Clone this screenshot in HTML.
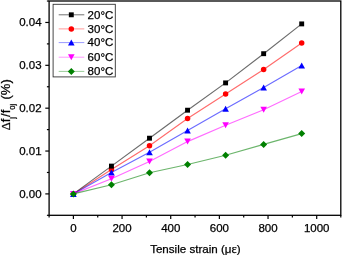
<!DOCTYPE html>
<html><head><meta charset="utf-8"><style>
html,body{margin:0;padding:0;background:#fff;}
svg{display:block;}
.t{font-family:"Liberation Sans",Arial,sans-serif;font-size:11.5px;fill:#000;stroke:#000;stroke-width:0.25px;}
.ti{font-family:"Liberation Sans",Arial,sans-serif;font-size:11.6px;fill:#000;stroke:#000;stroke-width:0.25px;}
.ty{font-family:"Liberation Sans",Arial,sans-serif;font-size:13px;fill:#000;stroke:#000;stroke-width:0.25px;}
.lg{font-family:"Liberation Sans",Arial,sans-serif;font-size:11.5px;fill:#000;stroke:#000;stroke-width:0.25px;}
</style></head><body>
<svg width="342" height="255" viewBox="0 0 342 255">
<rect width="342" height="255" fill="#fff"/>
<polyline points="73.40,193.90 111.45,169.60 149.50,145.70 187.55,118.60 225.60,93.90 263.65,69.40 301.70,43.00" fill="none" stroke="#ff0000" stroke-width="1.15" stroke-opacity="0.58"/>
<circle cx="73.40" cy="193.90" r="2.75" fill="#ff0000"/>
<circle cx="111.45" cy="169.60" r="2.75" fill="#ff0000"/>
<circle cx="149.50" cy="145.70" r="2.75" fill="#ff0000"/>
<circle cx="187.55" cy="118.60" r="2.75" fill="#ff0000"/>
<circle cx="225.60" cy="93.90" r="2.75" fill="#ff0000"/>
<circle cx="263.65" cy="69.40" r="2.75" fill="#ff0000"/>
<circle cx="301.70" cy="43.00" r="2.75" fill="#ff0000"/>
<polyline points="73.40,193.90 111.45,166.10 149.50,138.20 187.55,110.20 225.60,82.90 263.65,53.70 301.70,23.90" fill="none" stroke="#000000" stroke-width="1.15" stroke-opacity="0.58"/>
<rect x="70.95" y="191.45" width="4.90" height="4.90" fill="#000000"/>
<rect x="109.00" y="163.65" width="4.90" height="4.90" fill="#000000"/>
<rect x="147.05" y="135.75" width="4.90" height="4.90" fill="#000000"/>
<rect x="185.10" y="107.75" width="4.90" height="4.90" fill="#000000"/>
<rect x="223.15" y="80.45" width="4.90" height="4.90" fill="#000000"/>
<rect x="261.20" y="51.25" width="4.90" height="4.90" fill="#000000"/>
<rect x="299.25" y="21.45" width="4.90" height="4.90" fill="#000000"/>
<polyline points="73.40,193.90 111.45,172.50 149.50,152.20 187.55,130.40 225.60,108.80 263.65,87.40 301.70,65.60" fill="none" stroke="#0000ff" stroke-width="1.15" stroke-opacity="0.58"/>
<polygon points="73.40,190.90 76.70,196.90 70.10,196.90" fill="#0000ff"/>
<polygon points="111.45,169.50 114.75,175.50 108.15,175.50" fill="#0000ff"/>
<polygon points="149.50,149.20 152.80,155.20 146.20,155.20" fill="#0000ff"/>
<polygon points="187.55,127.40 190.85,133.40 184.25,133.40" fill="#0000ff"/>
<polygon points="225.60,105.80 228.90,111.80 222.30,111.80" fill="#0000ff"/>
<polygon points="263.65,84.40 266.95,90.40 260.35,90.40" fill="#0000ff"/>
<polygon points="301.70,62.60 305.00,68.60 298.40,68.60" fill="#0000ff"/>
<polyline points="73.40,193.90 111.45,178.80 149.50,161.40 187.55,141.60 225.60,125.30 263.65,109.70 301.70,91.40" fill="none" stroke="#ff00ff" stroke-width="1.15" stroke-opacity="0.58"/>
<polygon points="73.40,196.90 76.70,190.90 70.10,190.90" fill="#ff00ff"/>
<polygon points="111.45,181.80 114.75,175.80 108.15,175.80" fill="#ff00ff"/>
<polygon points="149.50,164.40 152.80,158.40 146.20,158.40" fill="#ff00ff"/>
<polygon points="187.55,144.60 190.85,138.60 184.25,138.60" fill="#ff00ff"/>
<polygon points="225.60,128.30 228.90,122.30 222.30,122.30" fill="#ff00ff"/>
<polygon points="263.65,112.70 266.95,106.70 260.35,106.70" fill="#ff00ff"/>
<polygon points="301.70,94.40 305.00,88.40 298.40,88.40" fill="#ff00ff"/>
<polyline points="73.40,193.90 111.45,184.80 149.50,172.70 187.55,164.50 225.60,155.20 263.65,144.40 301.70,133.60" fill="none" stroke="#008000" stroke-width="1.15" stroke-opacity="0.58"/>
<polygon points="73.40,190.40 76.90,193.90 73.40,197.40 69.90,193.90" fill="#008000"/>
<polygon points="111.45,181.30 114.95,184.80 111.45,188.30 107.95,184.80" fill="#008000"/>
<polygon points="149.50,169.20 153.00,172.70 149.50,176.20 146.00,172.70" fill="#008000"/>
<polygon points="187.55,161.00 191.05,164.50 187.55,168.00 184.05,164.50" fill="#008000"/>
<polygon points="225.60,151.70 229.10,155.20 225.60,158.70 222.10,155.20" fill="#008000"/>
<polygon points="263.65,140.90 267.15,144.40 263.65,147.90 260.15,144.40" fill="#008000"/>
<polygon points="301.70,130.10 305.20,133.60 301.70,137.10 298.20,133.60" fill="#008000"/>
<rect x="49.10" y="1.00" width="291.70" height="214.30" fill="none" stroke="#000" stroke-width="1.3"/>
<line x1="49.10" y1="215.30" x2="49.10" y2="217.50" stroke="#000" stroke-width="1.2"/>
<line x1="73.40" y1="215.30" x2="73.40" y2="219.10" stroke="#000" stroke-width="1.2"/>
<line x1="97.73" y1="215.30" x2="97.73" y2="217.50" stroke="#000" stroke-width="1.2"/>
<line x1="122.06" y1="215.30" x2="122.06" y2="219.10" stroke="#000" stroke-width="1.2"/>
<line x1="146.39" y1="215.30" x2="146.39" y2="217.50" stroke="#000" stroke-width="1.2"/>
<line x1="170.72" y1="215.30" x2="170.72" y2="219.10" stroke="#000" stroke-width="1.2"/>
<line x1="195.05" y1="215.30" x2="195.05" y2="217.50" stroke="#000" stroke-width="1.2"/>
<line x1="219.38" y1="215.30" x2="219.38" y2="219.10" stroke="#000" stroke-width="1.2"/>
<line x1="243.71" y1="215.30" x2="243.71" y2="217.50" stroke="#000" stroke-width="1.2"/>
<line x1="268.04" y1="215.30" x2="268.04" y2="219.10" stroke="#000" stroke-width="1.2"/>
<line x1="292.37" y1="215.30" x2="292.37" y2="217.50" stroke="#000" stroke-width="1.2"/>
<line x1="316.70" y1="215.30" x2="316.70" y2="219.10" stroke="#000" stroke-width="1.2"/>
<line x1="340.80" y1="215.30" x2="340.80" y2="217.50" stroke="#000" stroke-width="1.2"/>
<line x1="49.10" y1="215.30" x2="46.90" y2="215.30" stroke="#000" stroke-width="1.2"/>
<line x1="49.10" y1="193.90" x2="45.30" y2="193.90" stroke="#000" stroke-width="1.2"/>
<line x1="49.10" y1="172.47" x2="46.90" y2="172.47" stroke="#000" stroke-width="1.2"/>
<line x1="49.10" y1="151.04" x2="45.30" y2="151.04" stroke="#000" stroke-width="1.2"/>
<line x1="49.10" y1="129.61" x2="46.90" y2="129.61" stroke="#000" stroke-width="1.2"/>
<line x1="49.10" y1="108.18" x2="45.30" y2="108.18" stroke="#000" stroke-width="1.2"/>
<line x1="49.10" y1="86.75" x2="46.90" y2="86.75" stroke="#000" stroke-width="1.2"/>
<line x1="49.10" y1="65.32" x2="45.30" y2="65.32" stroke="#000" stroke-width="1.2"/>
<line x1="49.10" y1="43.89" x2="46.90" y2="43.89" stroke="#000" stroke-width="1.2"/>
<line x1="49.10" y1="22.46" x2="45.30" y2="22.46" stroke="#000" stroke-width="1.2"/>
<line x1="49.10" y1="1.03" x2="46.90" y2="1.03" stroke="#000" stroke-width="1.2"/>
<text x="73.40" y="231.8" text-anchor="middle" class="t">0</text>
<text x="122.06" y="231.8" text-anchor="middle" class="t">200</text>
<text x="170.72" y="231.8" text-anchor="middle" class="t">400</text>
<text x="219.38" y="231.8" text-anchor="middle" class="t">600</text>
<text x="268.04" y="231.8" text-anchor="middle" class="t">800</text>
<text x="316.70" y="231.8" text-anchor="middle" class="t">1000</text>
<text x="41.6" y="197.90" text-anchor="end" class="t">0.00</text>
<text x="41.6" y="155.04" text-anchor="end" class="t">0.01</text>
<text x="41.6" y="112.18" text-anchor="end" class="t">0.02</text>
<text x="41.6" y="69.32" text-anchor="end" class="t">0.03</text>
<text x="41.6" y="26.46" text-anchor="end" class="t">0.04</text>
<text x="195.4" y="252.9" text-anchor="middle" class="ti">Tensile strain (&#956;<tspan font-family="Liberation Serif, serif" font-size="12.5">&#949;</tspan>)</text>
<text transform="translate(9.9,130.3) rotate(-90)" class="ty"><tspan font-size="12.5" font-family="Liberation Serif, serif">&#916;</tspan>f<tspan dy="4.6" font-size="7.5">j</tspan><tspan dy="-4.6">/f</tspan><tspan dy="4.6" font-size="7.5">0j</tspan><tspan dy="-4.6" dx="0.8"> (%)</tspan></text>
<rect x="53.1" y="4.3" width="62.2" height="72.6" fill="#fff" stroke="#333" stroke-width="0.9"/>
<line x1="58.7" y1="14.8" x2="84.3" y2="14.8" stroke="#000000" stroke-width="0.8" stroke-opacity="0.7"/>
<rect x="68.85" y="12.35" width="4.90" height="4.90" fill="#000000"/>
<text x="87.6" y="18.50" class="lg">20°C</text>
<line x1="58.7" y1="28.9" x2="84.3" y2="28.9" stroke="#ff0000" stroke-width="0.8" stroke-opacity="0.5"/>
<circle cx="71.30" cy="28.90" r="2.75" fill="#ff0000"/>
<text x="87.6" y="32.60" class="lg">30°C</text>
<line x1="58.7" y1="42.6" x2="84.3" y2="42.6" stroke="#0000ff" stroke-width="0.8" stroke-opacity="0.5"/>
<polygon points="71.30,39.60 74.60,45.60 68.00,45.60" fill="#0000ff"/>
<text x="87.6" y="46.30" class="lg">40°C</text>
<line x1="58.7" y1="57.2" x2="84.3" y2="57.2" stroke="#ff00ff" stroke-width="0.8" stroke-opacity="0.5"/>
<polygon points="71.30,60.20 74.60,54.20 68.00,54.20" fill="#ff00ff"/>
<text x="87.6" y="60.90" class="lg">60°C</text>
<line x1="58.7" y1="71.4" x2="84.3" y2="71.4" stroke="#008000" stroke-width="0.8" stroke-opacity="0.5"/>
<polygon points="71.30,67.90 74.80,71.40 71.30,74.90 67.80,71.40" fill="#008000"/>
<text x="87.6" y="75.10" class="lg">80°C</text>
</svg>
</body></html>
